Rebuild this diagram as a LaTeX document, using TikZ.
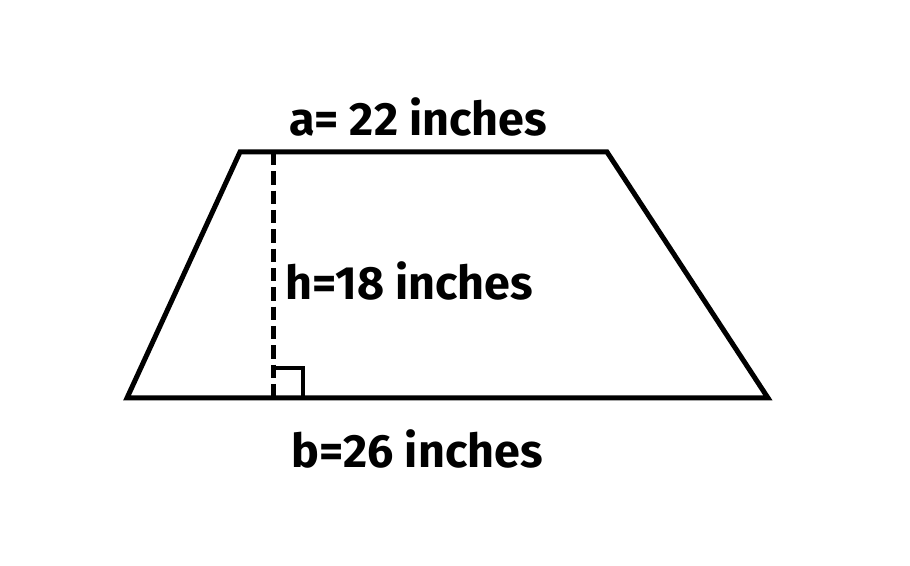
\documentclass[tikz,border=0pt]{standalone}
\usepackage{fontspec}
\setmainfont{Fira Sans}
\begin{document}
\begin{tikzpicture}[x=0.75pt,y=-0.75pt,
  edge/.style={line width=3.75pt,line cap=round,line join=miter},
  lbl/.style={anchor=base,inner sep=0pt,font=\fontsize{35}{40}\selectfont\bfseries}]
\useasboundingbox (0,0) rectangle (910,566);
\coordinate (tl) at (240,152);
\coordinate (tr) at (607,152);
\coordinate (br) at (768,398);
\coordinate (bl) at (127,398);
\coordinate (ht) at (273,152);
\coordinate (hb) at (273,398);
\draw[edge] (bl) -- (tl) -- (tr) -- (br) -- cycle;
\draw[line width=3.75pt,dash pattern=on 10pt off 4.5pt] (ht) -- (hb);
\draw[line width=3pt] (273,368) -- (303,368) -- (303,398);
\node[lbl] (a) at (418,136) {a= 22 inches};
\node[lbl] (h) at (409,300) {h=18 inches};
\node[lbl] (b) at (417,467) {b=26 inches};
\end{tikzpicture}
\end{document}
